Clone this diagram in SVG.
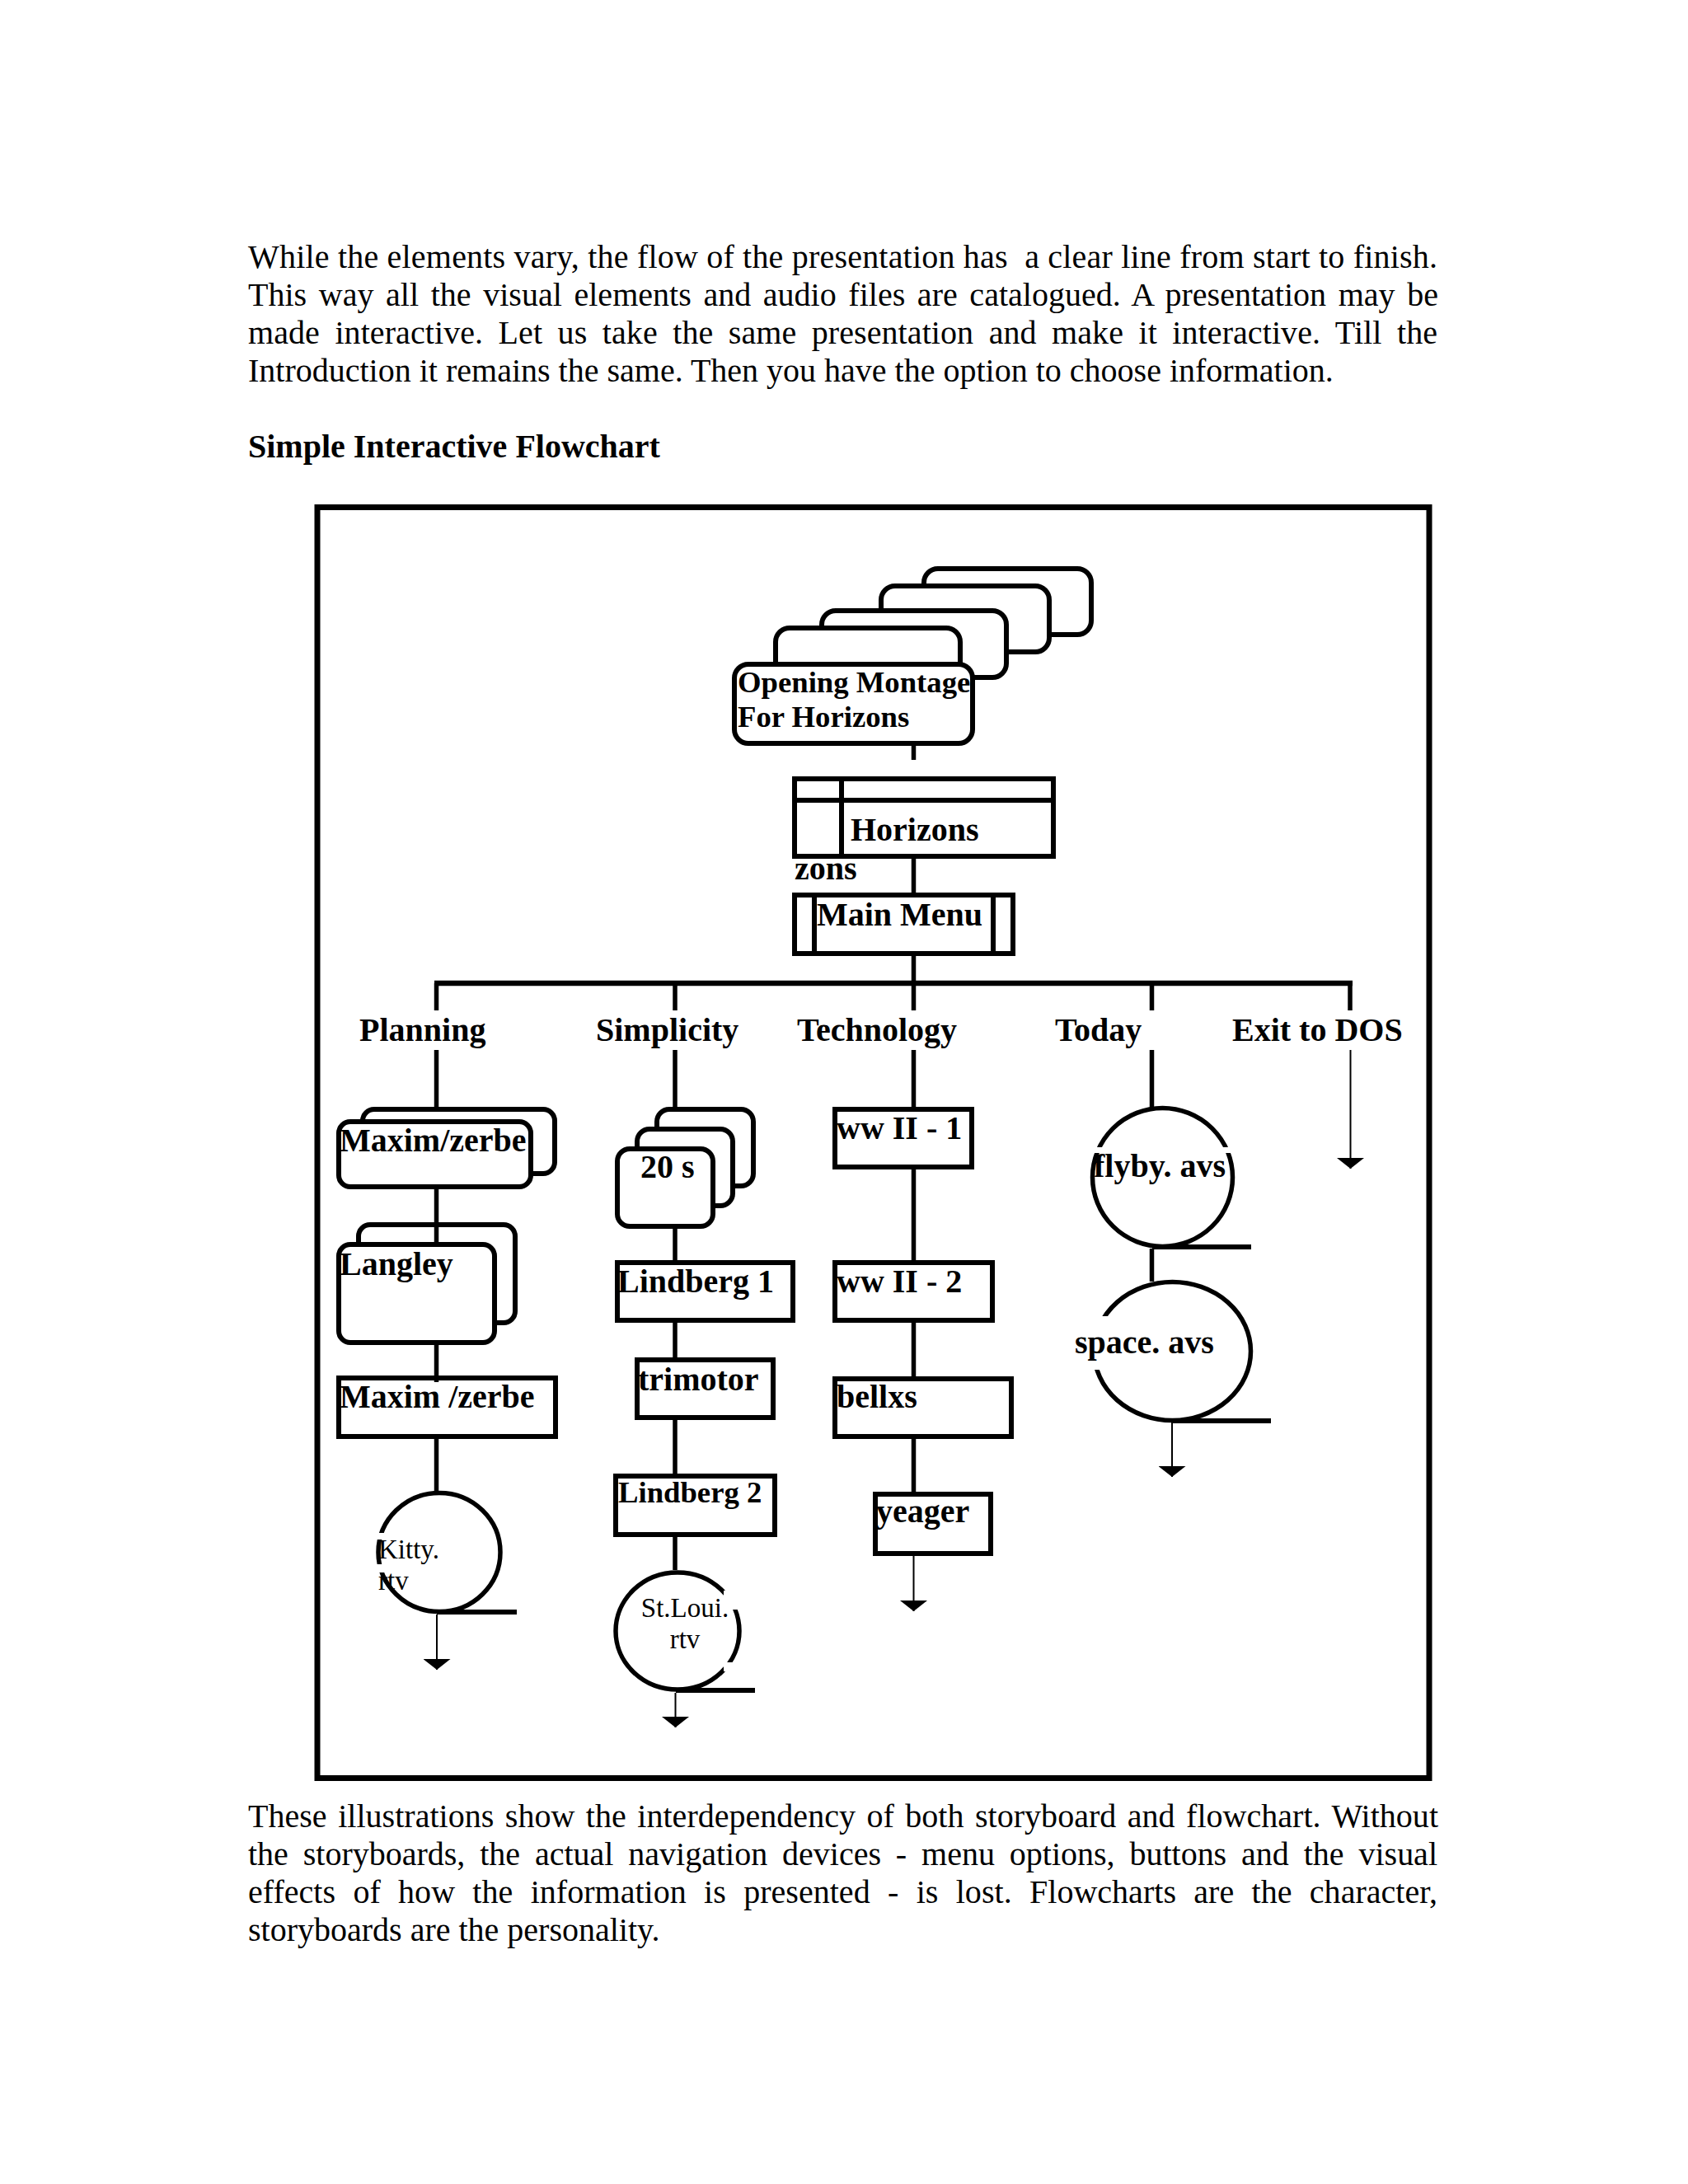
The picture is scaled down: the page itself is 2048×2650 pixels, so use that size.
<svg xmlns="http://www.w3.org/2000/svg" width="2048" height="2650" viewBox="0 0 2048 2650">
<style>
text{font-family:"Liberation Serif","Times New Roman",serif;fill:#000}
.p{font-size:40px}
.b{font-size:40px;font-weight:bold}
.om{font-size:36.7px;font-weight:bold}
.s{font-size:33px}
.n{fill:#fff;stroke:#000;stroke-width:6}
.c{fill:#fff;stroke:#000;stroke-width:5.5}
.t{stroke:#000;stroke-width:6;fill:none}
.w{fill:#fff;stroke:none}
.ln{stroke:#000;stroke-width:5.5;fill:none}
.bus{stroke:#000;stroke-width:6.5;fill:none}
.ar{stroke:#000;stroke-width:2;fill:none;marker-end:url(#ah)}
</style>
<defs>
<marker id="ah" markerUnits="userSpaceOnUse" markerWidth="13" markerHeight="33" viewBox="0 0 13 33" refX="13" refY="16.5" orient="auto">
<path d="M0,0 L13,16.5 L0,33 Z" fill="#000"/>
</marker>
</defs>
<rect width="2048" height="2650" fill="#fff"/>

<g id="top-text">
<text class="p" x="301" y="325" textLength="1443" lengthAdjust="spacing">While the elements vary, the flow of the presentation has&#160; a clear line from start to finish.</text>
<text class="p" x="301" y="371" word-spacing="4.6" textLength="1444" lengthAdjust="spacing">This way all the visual elements and audio files are catalogued. A presentation may be</text>
<text class="p" x="301" y="417" word-spacing="8.4" textLength="1443" lengthAdjust="spacing">made interactive. Let us take the same presentation and make it interactive. Till the</text>
<text class="p" x="301" y="463">Introduction it remains the same. Then you have the option to choose information.</text>
<text class="b" x="301" y="555">Simple Interactive Flowchart</text>
</g>

<rect id="frame" x="385" y="615.5" width="1349" height="1542" fill="none" stroke="#000" stroke-width="7"/>

<g id="opening-montage">
<rect class="n" x="1121" y="690" width="203" height="80" rx="17" stroke-width="6.5"/>
<rect class="n" x="1069" y="711" width="204" height="80" rx="17" stroke-width="6.5"/>
<rect class="n" x="997" y="741" width="224" height="81" rx="17" stroke-width="6.5"/>
<rect class="n" x="941" y="762" width="224" height="80" rx="17" stroke-width="6.5"/>
<rect class="n" x="891" y="806" width="289" height="96" rx="17" stroke-width="6.5"/>
<text class="om" x="895" y="840">Opening Montage</text>
<text class="om" x="895" y="882">For Horizons</text>
</g>

<g id="horizons">
<rect class="n" x="964" y="945" width="314" height="94"/>
<line class="t" x1="964" y1="971" x2="1278" y2="971"/>
<line class="t" x1="1021" y1="945" x2="1021" y2="1039"/>
<text class="b" x="1032" y="1020">Horizons</text>
<text class="b" x="964" y="1067">zons</text>
</g>

<g id="main-menu">
<rect class="n" x="964" y="1086" width="265" height="71"/>
<line class="t" x1="988" y1="1086" x2="988" y2="1157"/>
<line class="t" x1="1205" y1="1086" x2="1205" y2="1157"/>
<text class="b" x="991" y="1123">Main Menu</text>
</g>

<g id="labels">
<text class="b" x="436" y="1263">Planning</text>
<text class="b" x="723" y="1263">Simplicity</text>
<text class="b" x="967" y="1263">Technology</text>
<text class="b" x="1280" y="1263">Today</text>
<text class="b" x="1495" y="1263">Exit to DOS</text>
</g>

<g id="maxim-zerbe-1">
<rect class="n" x="440" y="1346" width="233" height="78" rx="14"/>
<rect class="n" x="411" y="1361" width="233" height="79" rx="14"/>
<text class="b" x="412" y="1397">Maxim/zerbe</text>
</g>
<g id="langley">
<rect class="n" x="435" y="1486" width="190" height="119" rx="14"/>
<rect class="n" x="411" y="1510" width="189" height="119" rx="14"/>
<text class="b" x="412" y="1547">Langley</text>
</g>
<g id="maxim-zerbe-2">
<rect class="n" x="411" y="1672" width="263" height="71"/>
<text class="b" x="412" y="1708">Maxim /zerbe</text>
</g>
<g id="kitty">
<ellipse class="c" cx="533" cy="1883.5" rx="74" ry="72"/>
<line class="t" x1="530" y1="1956" x2="627" y2="1956"/>
<rect class="w" x="450" y="1860" width="18" height="8"/>
<rect class="w" x="450" y="1898" width="18" height="10"/>
<text class="s" x="459" y="1891">Kitty.</text>
<text class="s" x="459" y="1929">rtv</text>
</g>

<g id="twenty-s">
<rect class="n" x="797" y="1346" width="117" height="93" rx="15"/>
<rect class="n" x="773" y="1370" width="116" height="93" rx="15"/>
<rect class="n" x="749" y="1394" width="116" height="94" rx="15"/>
<text class="b" x="777" y="1429">20 s</text>
</g>
<g id="lindberg-1">
<rect class="n" x="749" y="1532" width="213" height="70"/>
<text class="b" x="749" y="1568">Lindberg 1</text>
</g>
<g id="trimotor">
<rect class="n" x="773" y="1650" width="165" height="70"/>
<text class="b" x="774" y="1687">trimotor</text>
</g>
<g id="lindberg-2">
<rect class="n" x="747" y="1791" width="193" height="71"/>
<text class="om" x="750" y="1823">Lindberg 2</text>
</g>
<g id="st-louis">
<ellipse class="c" cx="822" cy="1979" rx="75" ry="71"/>
<line class="t" x1="820" y1="2051" x2="916" y2="2051"/>
<rect class="w" x="878" y="1930" width="28" height="23"/>
<rect class="w" x="878" y="2017" width="28" height="11"/>
<text class="s" x="831" y="1962" text-anchor="middle">St.Loui.</text>
<text class="s" x="831" y="2000" text-anchor="middle">rtv</text>
</g>

<g id="ww2-1">
<rect class="n" x="1013" y="1346" width="166" height="70"/>
<text class="b" x="1015" y="1382">ww II - 1</text>
</g>
<g id="ww2-2">
<rect class="n" x="1013" y="1532" width="191" height="70"/>
<text class="b" x="1015" y="1568">ww II - 2</text>
</g>
<g id="bellxs">
<rect class="n" x="1013" y="1673" width="214" height="70"/>
<text class="b" x="1015" y="1708">bellxs</text>
</g>
<g id="yeager">
<rect class="n" x="1062" y="1813" width="140" height="72"/>
<text class="b" x="1063" y="1847">yeager</text>
</g>

<g id="flyby">
<ellipse class="c" cx="1410.5" cy="1428.5" rx="85" ry="84"/>
<line class="t" x1="1398" y1="1513" x2="1518" y2="1513"/>
<rect class="w" x="1316" y="1392" width="190" height="7"/>
<text class="b" x="1327" y="1428">flyby. avs</text>
</g>
<g id="space">
<ellipse class="c" cx="1422.5" cy="1639.5" rx="95" ry="84"/>
<line class="t" x1="1422" y1="1724" x2="1542" y2="1724"/>
<rect class="w" x="1300" y="1597" width="45" height="65"/>
<text class="b" x="1304" y="1642">space. avs</text>
</g>

<g id="connectors">
<line class="ln" x1="1108.5" y1="905" x2="1108.5" y2="922"/>
<line class="ln" x1="1108.5" y1="1042" x2="1108.5" y2="1083"/>
<line class="ln" x1="1108.5" y1="1160" x2="1108.5" y2="1193"/>
<line class="bus" x1="527" y1="1193" x2="1641" y2="1193"/>
<line class="ln" x1="529.5" y1="1193" x2="529.5" y2="1226"/>
<line class="ln" x1="819" y1="1193" x2="819" y2="1226"/>
<line class="ln" x1="1108.5" y1="1193" x2="1108.5" y2="1226"/>
<line class="ln" x1="1397.5" y1="1193" x2="1397.5" y2="1226"/>
<line class="ln" x1="1638" y1="1193" x2="1638" y2="1226"/>

<line class="ln" x1="529.5" y1="1274" x2="529.5" y2="1343"/>
<line class="ln" x1="529.5" y1="1443" x2="529.5" y2="1507"/>
<line class="ln" x1="529.5" y1="1632" x2="529.5" y2="1677"/>
<line class="ln" x1="529.5" y1="1746" x2="529.5" y2="1809"/>
<line class="ar" x1="530" y1="1959" x2="530" y2="2026"/>

<line class="ln" x1="819" y1="1274" x2="819" y2="1343"/>
<line class="ln" x1="819" y1="1491" x2="819" y2="1529"/>
<line class="ln" x1="819" y1="1605" x2="819" y2="1647"/>
<line class="ln" x1="819" y1="1723" x2="819" y2="1788"/>
<line class="ln" x1="819" y1="1865" x2="819" y2="1905"/>
<line class="ar" x1="819.5" y1="2054" x2="819.5" y2="2096"/>

<line class="ln" x1="1108.5" y1="1274" x2="1108.5" y2="1343"/>
<line class="ln" x1="1108.5" y1="1419" x2="1108.5" y2="1529"/>
<line class="ln" x1="1108.5" y1="1605" x2="1108.5" y2="1670"/>
<line class="ln" x1="1108.5" y1="1746" x2="1108.5" y2="1810"/>
<line class="ar" x1="1108.5" y1="1888" x2="1108.5" y2="1955"/>

<line class="ln" x1="1397.5" y1="1274" x2="1397.5" y2="1344"/>
<line class="ln" x1="1397.5" y1="1515" x2="1397.5" y2="1555"/>
<line class="ar" x1="1422" y1="1726" x2="1422" y2="1792"/>

<line class="ar" x1="1638.5" y1="1274" x2="1638.5" y2="1418"/>
</g>

<g id="bottom-text">
<text class="p" x="301" y="2217" word-spacing="3.5" textLength="1444" lengthAdjust="spacing">These illustrations show the interdependency of both storyboard and flowchart. Without</text>
<text class="p" x="301" y="2263" word-spacing="7.9" textLength="1443" lengthAdjust="spacing">the storyboards, the actual navigation devices - menu options, buttons and the visual</text>
<text class="p" x="301" y="2309" word-spacing="11.3" textLength="1443" lengthAdjust="spacing">effects of how the information is presented - is lost. Flowcharts are the character,</text>
<text class="p" x="301" y="2355">storyboards are the personality.</text>
</g>
</svg>
